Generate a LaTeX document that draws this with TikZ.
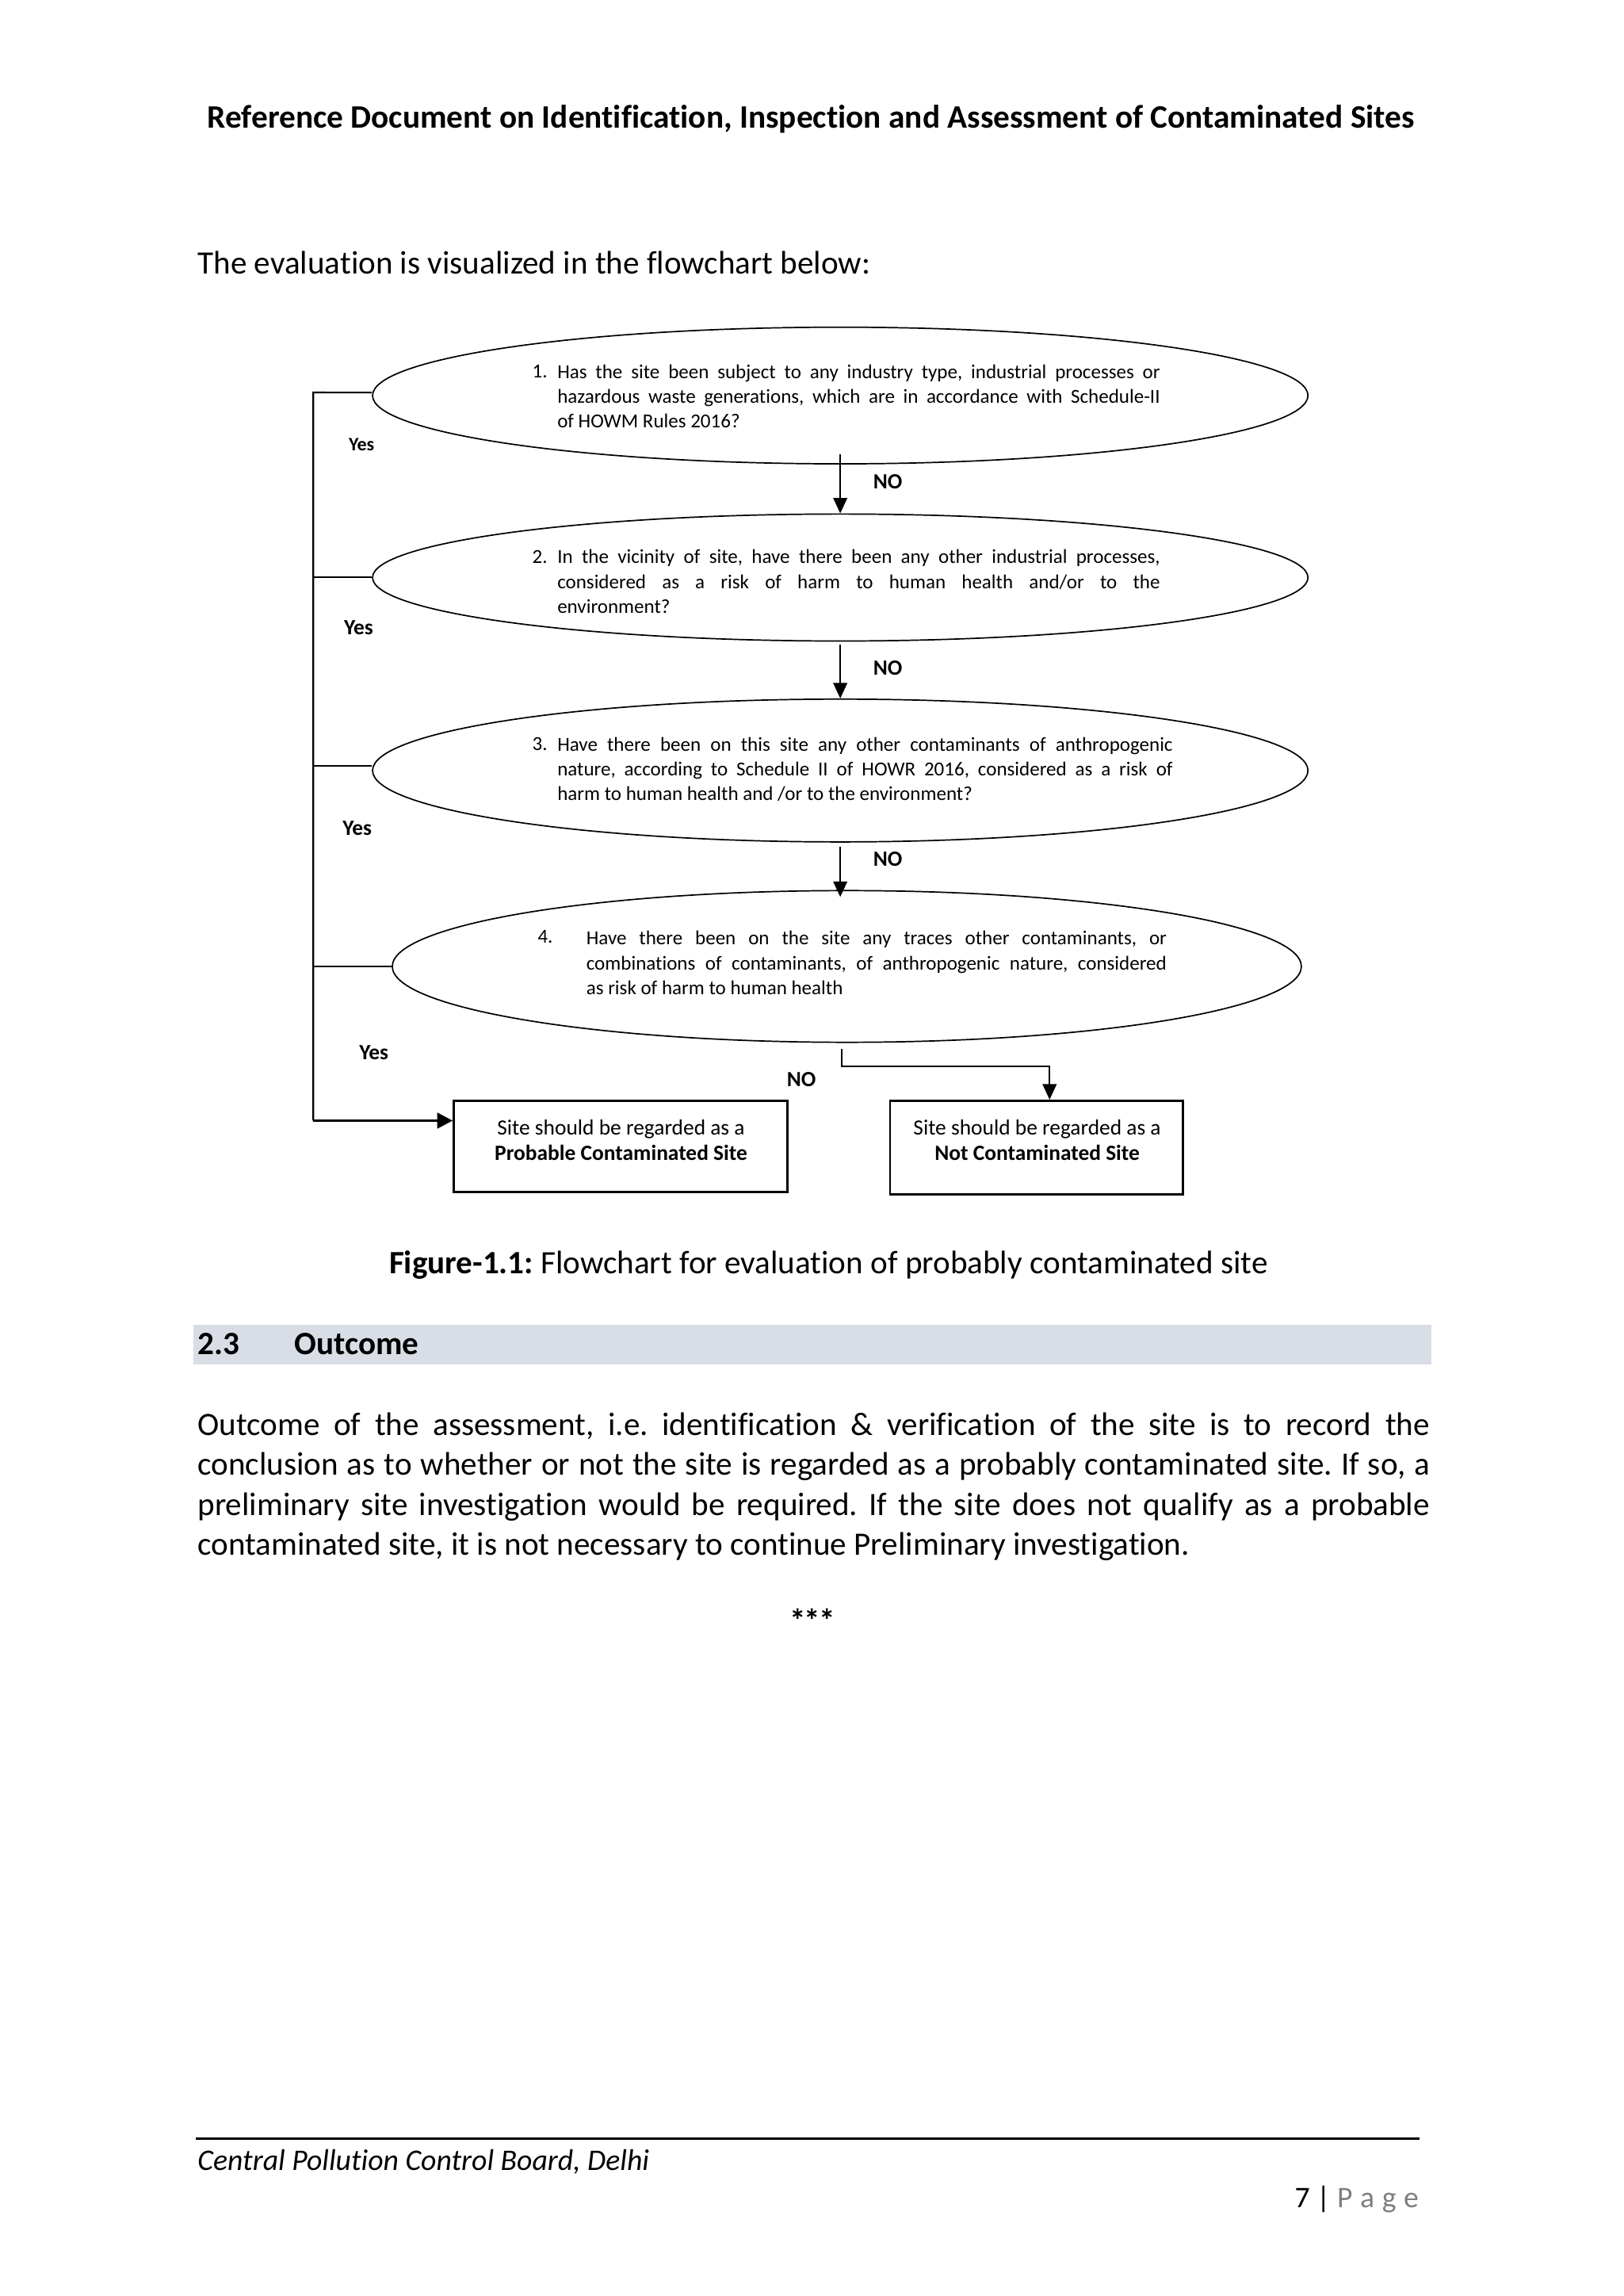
\documentclass[tikz,border=0pt]{standalone}
\usepackage{fontspec}
\setmainfont{Carlito}[Ligatures=NoCommon]
\usetikzlibrary{shapes.geometric,arrows.meta}
\definecolor{barcol}{RGB}{217,221,230}
\definecolor{pagegray}{RGB}{127,127,127}
\newcommand{\jl}[2]{\makebox[#1][s]{#2}}
\def\PX{0.189358mm}
\frenchspacing
\begin{document}
\frenchspacing
\begin{tikzpicture}[x=0.189358mm,y=-0.189358mm,
  ell/.style={draw, ellipse, line width=0.5pt, inner sep=0pt},
  qtext/.style={font=\fontsize{7.3}{9.1}\selectfont, inner sep=0pt, align=left},
  lbl/.style={font=\fontsize{8}{9}\selectfont\bfseries, inner sep=0pt},
  resbox/.style={draw, line width=0.8pt, inner sep=0pt},
  restext/.style={font=\fontsize{8}{9.5}\selectfont, inner sep=0pt, align=center},
  conn/.style={line width=0.6pt},
  arr/.style={conn, -{Triangle[length=2mm,width=1.8mm]}},
  yesarr/.style={line width=1pt, -{Triangle[length=2mm,width=2mm]}},
  body/.style={font=\fontsize{12}{14.7}\selectfont, inner sep=0pt}
]
\useasboundingbox (0,0) rectangle (1109,1568);

% page header and text
\node[body, font=\fontsize{12.05}{14.7}\selectfont\bfseries] (hdr) at (554,81.2)
  {Reference Document on Identification, Inspection and Assessment of Contaminated Sites};
\node[body, anchor=west] (intro) at (134.7,179.6) {The evaluation is visualized in the flowchart below:};

% ellipses
\node[ell, minimum width=639*\PX, minimum height=93.3*\PX] (e1) at (574,270.1) {};
\node[ell, minimum width=639*\PX, minimum height=86.7*\PX] (e2) at (574,394.4) {};
\node[ell, minimum width=639*\PX, minimum height=97.5*\PX] (e3) at (574,526.2) {};
\node[ell, minimum width=621*\PX, minimum height=103.6*\PX] (e4) at (578.5,660) {};

% question texts
\node[qtext, anchor=west] (n1) at (363.3,253.8) {1.};
\node[qtext, anchor=west] (t1) at (380.4,270.8)
  {\jl{77.96mm}{Has the site been subject to any industry type, industrial processes or}\\
   \jl{77.96mm}{hazardous waste generations, which are in accordance with Schedule-II}\\
   of HOWM Rules 2016?};
\node[qtext, anchor=west] (n2) at (363.3,380.2) {2.};
\node[qtext, anchor=west] (t2) at (380.4,397.1)
  {\jl{77.96mm}{In the vicinity of site, have there been any other industrial processes,}\\
   \jl{77.96mm}{considered as a risk of harm to human health and/or to the}\\
   environment?};
\node[qtext, anchor=west] (n3) at (363.3,508.3) {3.};
\node[qtext, anchor=west] (t3) at (380.4,525.3)
  {\jl{79.6mm}{Have there been on this site any other contaminants of anthropogenic}\\
   \jl{79.6mm}{nature, according to Schedule II of HOWR 2016, considered as a risk of}\\
   harm to human health and /or to the environment?};
\node[qtext, anchor=west] (n4) at (367,639.7) {4.};
\node[qtext, anchor=west] (t4) at (400.2,657.6)
  {\jl{75.06mm}{Have there been on the site any traces other contaminants, or}\\
   \jl{75.06mm}{combinations of contaminants, of anthropogenic nature, considered}\\
   as risk of harm to human health};

% result boxes
\node[resbox, minimum width=228*\PX, minimum height=62.3*\PX] (b1) at (424,782.9) {};
\node[resbox, minimum width=200*\PX, minimum height=64.1*\PX] (b2) at (708,783.75) {};
\node[restext] (bt1) at (424.2,778.6) {Site should be regarded as a\\\textbf{Probable Contaminated Site}};
\node[restext] (bt2) at (708.5,778.6) {Site should be regarded as a\\\textbf{Not Contaminated Site}};

% NO arrows
\draw[arr] ([yshift=7*\PX]e1.south) -- (e2.north);
\draw[arr] ([yshift=-2*\PX]e2.south) -- (e3.north);
\draw[arr] ([yshift=-2.6*\PX]e3.south) -- ([yshift=-4.8*\PX]e3.south |- e4.north);
\coordinate (k4) at (575,728.3);
\draw[arr] ([xshift=-3.5*\PX,yshift=-4.1*\PX]e4.south) -- (k4) -| ([xshift=9*\PX]b2.north);

% Yes spine
\coordinate (spT) at (214,268);
\coordinate (spB) at (214,765.3);
\draw[conn] ([yshift=2*\PX]e1.west) -- (spT) -- (spB);
\draw[conn] (e2.west) -- (e2.west -| spT);
\draw[conn] ([yshift=3*\PX]e3.west) -- ([yshift=3*\PX]e3.west -| spT);
\draw[conn] (e4.west) -- (e4.west -| spT);
\draw[yesarr] (spB) -- (spB -| b1.west);

% labels
\node[lbl, font=\fontsize{7}{8}\selectfont\bfseries] (y1) at (247,303.8) {Yes};
\node[lbl] (y2) at (245,428.7) {Yes};
\node[lbl] (y3) at (244,565.9) {Yes};
\node[lbl] (y4) at (255.4,719) {Yes};
\node[lbl] (no1) at (606.5,328.9) {NO};
\node[lbl] (no2) at (606.5,456.3) {NO};
\node[lbl] (no3) at (606.5,586.6) {NO};
\node[lbl] (no4) at (547.5,737) {NO};

% caption
\node[body] (cap) at (566,863.9) {\textbf{Figure-1.1:} Flowchart for evaluation of probably contaminated site};

% section bar
\node[fill=barcol, inner sep=0pt, minimum width=845.7*\PX, minimum height=27.3*\PX, anchor=north west] (bar) at (131.8,904.3) {};
\node[body, font=\fontsize{12}{14.7}\selectfont\bfseries, anchor=west] (secn) at (134.7,918) {2.3};
\node[body, font=\fontsize{12}{14.7}\selectfont\bfseries, anchor=west] (sect) at (200.9,918) {Outcome};

% paragraph
\node[body, anchor=west, align=left] (para) at (134.7,1015.3)
  {\jl{159.4mm}{Outcome of the assessment, i.e. identification \& verification of the site is to record the}\\
   \jl{159.4mm}{conclusion as to whether or not the site is regarded as a probably contaminated site. If so, a}\\
   \jl{159.4mm}{preliminary site investigation would be required. If the site does not qualify as a probable}\\
   contaminated site, it is not necessary to continue Preliminary investigation.};

\node[body, font=\fontsize{12}{14.7}\selectfont\bfseries] (stars) at (555,1106.5) {*\kern-0.5pt*\kern-0.5pt*};

% footer
\coordinate (rl) at (134,1460.3);
\coordinate (rr) at (969.5,1460.3);
\draw[line width=0.9pt] (rl) -- (rr);
\node[inner sep=0pt, anchor=west, font=\fontsize{11}{13}\selectfont\itshape] (foot) at (134.7,1476.5) {Central Pollution Control Board, Delhi};
\node[inner sep=0pt, anchor=east, font=\fontsize{11}{13}\selectfont] (pg) at (969.5,1502.2)
  {7 | \textcolor{pagegray}{P\hspace{2.8pt}a\hspace{2.8pt}g\hspace{2.8pt}e}};
\end{tikzpicture}
\end{document}
